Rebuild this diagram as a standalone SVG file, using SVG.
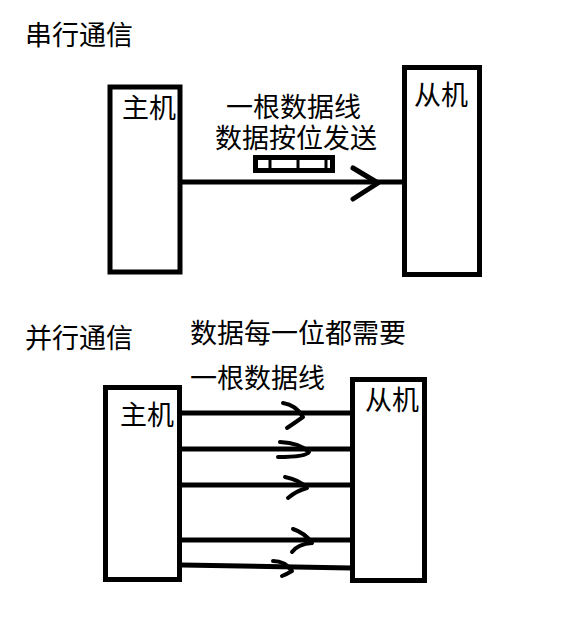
<svg xmlns="http://www.w3.org/2000/svg" width="586" height="634" viewBox="0 0 586 634">
<style>
.box{fill:none;stroke:#000;stroke-width:5}
.ln{fill:none;stroke:#000;stroke-width:5}
.hd{fill:none;stroke:#000;stroke-width:4;stroke-linecap:round;stroke-linejoin:round}
text{font-family:"Noto Sans CJK SC","Microsoft YaHei",sans-serif;font-size:27px;fill:#000}
</style>
<rect width="586" height="634" fill="#fff"/>
<text x="25" y="45" font-size="26">串行通信</text>
<text x="25" y="348" font-size="26">并行通信</text>
<g id="serial-host"><rect class="box" x="110" y="87" width="70" height="185"/><text x="122" y="118">主机</text></g>
<g id="serial-slave"><rect class="box" x="404.5" y="67.5" width="75" height="207"/><text x="414" y="105">从机</text></g>
<g id="serial-label"><text x="226" y="117">一根数据线</text><text x="215" y="148">数据按位发送</text></g>
<g id="serial-bits"><rect class="box" x="255.5" y="157.5" width="77" height="13"/><line x1="270" y1="157" x2="270" y2="171" stroke="#000" stroke-width="3"/><line x1="298" y1="157" x2="298" y2="171" stroke="#000" stroke-width="3"/><line x1="326" y1="157" x2="326" y2="171" stroke="#000" stroke-width="3"/></g>
<g id="parallel-host"><rect class="box" x="105.5" y="387.5" width="74" height="192"/><text x="120" y="425">主机</text></g>
<g id="parallel-slave"><rect class="box" x="352.5" y="379.5" width="72" height="201"/><text x="365" y="410">从机</text></g>
<g id="parallel-label"><text x="190" y="343">数据每一位都需要</text><text x="190" y="388">一根数据线</text></g>
<g id="connectors">
<line class="ln" x1="182" y1="182" x2="403" y2="182"/>
<path d="M353 168 L378 183 L353 199" fill="none" stroke="#000" stroke-width="5" stroke-linecap="round" stroke-linejoin="round"/>
<line class="ln" x1="182" y1="413" x2="351" y2="413"/>
<line class="ln" x1="182" y1="449" x2="355" y2="449"/>
<line class="ln" x1="182" y1="485" x2="351" y2="485"/>
<line class="ln" x1="182" y1="540" x2="351" y2="540"/>
<line class="ln" x1="182" y1="565" x2="351" y2="568"/>
<path class="hd" d="M283 403 Q296 405 303 417 Q296 422 287 428"/>
<path class="hd" d="M280 442 Q300 443 309 452 Q306 457 278 457"/>
<path class="hd" d="M285 477 Q300 480 307 488 Q296 491 288 498"/>
<path class="hd" d="M293 529 Q305 533 312 543 Q298 544 292 552"/>
<path class="hd" d="M273 561 Q285 561 292 571 Q287 574 282 576"/>
</g>
</svg>
